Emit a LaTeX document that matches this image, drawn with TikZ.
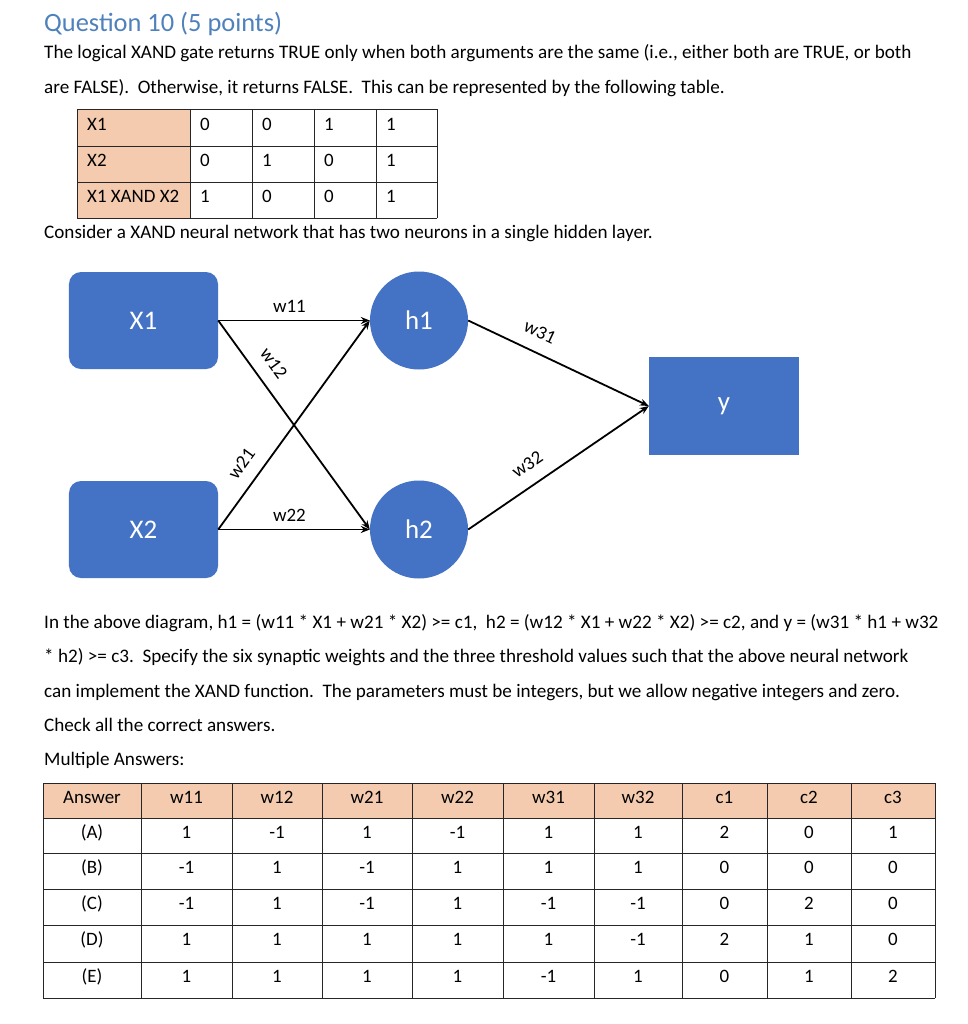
\documentclass[tikz,border=0pt]{standalone}
\usepackage{fontspec}
\setmainfont{Carlito}
\usetikzlibrary{arrows.meta}

\definecolor{nodeblue}{HTML}{4472C4}
\definecolor{titleblue}{HTML}{4F81BD}
\definecolor{peach}{HTML}{F4CBAE}

\tikzset{
  inbox/.style={rectangle,rounded corners=12bp,fill=nodeblue,minimum width=149bp,minimum height=97bp,text=white,font=\fontsize{27}{32}\selectfont},
  neuron/.style={circle,fill=nodeblue,minimum size=98bp,inner sep=0pt,text=white,font=\fontsize{27}{32}\selectfont},
  outbox/.style={rectangle,fill=nodeblue,minimum width=150bp,minimum height=98bp,text=white,font=\fontsize{27}{32}\selectfont},
  wire/.style={-{Stealth[length=9bp,width=7bp]},line width=1.8bp},
  wlabel/.style={sloped,above,inner sep=7bp,font=\fontsize{19}{22}\selectfont},
  farlabel/.style={wlabel,inner sep=13bp},
  textline/.style={anchor=base west,inner sep=0pt,font=\fontsize{19.2}{22}\selectfont},
  cell/.style={anchor=base,inner sep=0pt,font=\fontsize{19}{22}\selectfont},
  grid/.style={draw=black!85,line width=1bp}
}

\begin{document}
\begin{tikzpicture}[x=1bp,y=-1bp]
\useasboundingbox[fill=white] (0,0) rectangle (968,1024);

% heading and question text
\node[textline,text=titleblue,font=\fontsize{26.5}{30}\selectfont] (title) at (44,31) {Question 10 (5 points)};
\node[textline] (l1) at (44,58) {The logical XAND gate returns TRUE only when both arguments are the same (i.e., either both are TRUE, or both};
\node[textline] (l2) at (44,93) {are FALSE).\ \ Otherwise, it returns FALSE.\ \ This can be represented by the following table.};

% truth table
\fill[peach] (77,109) rectangle (190,218);
\foreach \x in {77,190,252,314,376,437}
  \draw[grid] (\x,109) -- (\x,218);
\foreach \y in {109,146,182,218}
  \draw[grid] (77,\y) -- (437,\y);
\def\tcol{{77,190,252,314,376}}
\foreach \row [count=\r] in {{X1,0,0,1,1},{X2,0,1,0,1},{X1 XAND X2,1,0,0,1}} {
  \foreach \val [count=\c] in \row {
    \pgfmathsetmacro\tx{\tcol[\c-1]+10}
    \pgfmathsetmacro\ty{94+36*\r}
    \node[cell,anchor=base west] (tt-\r-\c) at (\tx,\ty) {\val};
  }
}

\node[textline] (l3) at (44,238) {Consider a XAND neural network that has two neurons in a single hidden layer.};

% network
\node[inbox] (x1) at (143.5,320.5) {X1};
\node[inbox] (x2) at (143.5,529.5) {X2};
\node[neuron] (h1) at (419,320.5) {h1};
\node[neuron] (h2) at (419,529.5) {h2};
\node[outbox] (y) at (724,406) {y};

\draw[wire] (x1.east) -- node[wlabel,pos=0.47] {w11} (h1.west);
\draw[wire] (x1.east) -- node[farlabel,pos=0.26] {w12} (h2.west);
\draw[wire] (x2.east) -- node[farlabel,pos=0.26] {w21} (h1.west);
\draw[wire] (x2.east) -- node[wlabel,pos=0.47] {w22} (h2.west);
\draw[wire] (h1.east) -- node[farlabel,pos=0.35] {w31} (y.west);
\draw[wire] (h2.east) -- node[farlabel,pos=0.39] {w32} (y.west);

% text under the diagram
\node[textline] (l4) at (44,628) {In the above diagram, h1 = (w11 * X1 + w21 * X2) >= c1,\ \ h2 = (w12 * X1 + w22 * X2) >= c2, and y = (w31 * h1 + w32};
\node[textline] (l5) at (44,662) {* h2) >= c3.\ \ Specify the six synaptic weights and the three threshold values such that the above neural network};
\node[textline] (l6) at (44,697) {can implement the XAND function.\ \ The parameters must be integers, but we allow negative integers and zero.};
\node[textline] (l7) at (44,731) {Check all the correct answers.};
\node[textline] (l8) at (44,765) {Multiple Answers:};

% answer table
\fill[peach] (43,783) rectangle (935,818);
\def\acol{{43,141,232,322,412,503,594,682,767,851,935}}
\def\arow{{783,818,853,889,925,962,998}}
\foreach \x in {43,141,232,322,412,503,594,682,767,851,935}
  \draw[grid] (\x,783) -- (\x,998);
\foreach \y in {783,818,853,889,925,962,998}
  \draw[grid] (43,\y) -- (935,\y);
\foreach \row [count=\r] in {
    {Answer,w11,w12,w21,w22,w31,w32,c1,c2,c3},
    {(A),1,-1,1,-1,1,1,2,0,1},
    {(B),-1,1,-1,1,1,1,0,0,0},
    {(C),-1,1,-1,1,-1,-1,0,2,0},
    {(D),1,1,1,1,1,-1,2,1,0},
    {(E),1,1,1,1,-1,1,0,1,2}} {
  \foreach \val [count=\c] in \row {
    \pgfmathsetmacro\xa{\acol[\c-1]}
    \pgfmathsetmacro\xb{\acol[\c]}
    \pgfmathsetmacro\ax{(\xa+\xb)/2}
    \pgfmathsetmacro\ay{\arow[\r-1]+20}
    \node[cell] (ans-\r-\c) at (\ax,\ay) {\val};
  }
}
\end{tikzpicture}
\end{document}
